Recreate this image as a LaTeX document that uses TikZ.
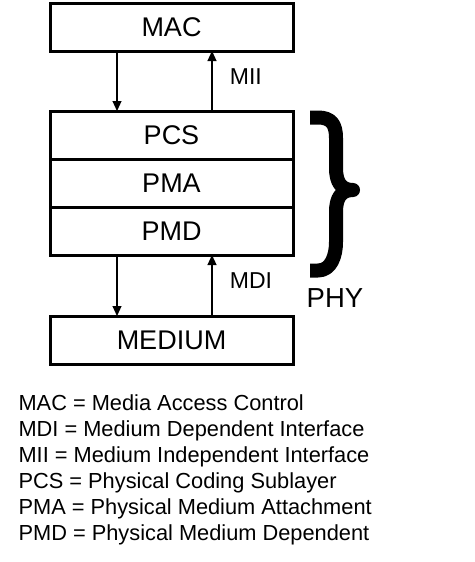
\documentclass[tikz,border=0pt]{standalone}
\usepackage{fontspec}
\setmainfont{Liberation Sans}
\usetikzlibrary{positioning,arrows.meta}
\tikzstyle{layer}=[rectangle,draw,line width=3pt,minimum width=243pt,
minimum height=48pt,inner sep=0pt,outer sep=0pt,font=\fontsize{27}{30}\selectfont]
\tikzstyle{iface}=[font=\fontsize{23}{26}\selectfont]
\tikzstyle{legend}=[anchor=base west,inner sep=0pt,font=\fontsize{21.8}{26}\selectfont]
\tikzstyle{brace}=[line width=14pt,line join=round]
\begin{document}
\begin{tikzpicture}[x=1pt,y=1pt,>={Triangle[length=10pt,width=9pt]},line width=1.1pt]
            \useasboundingbox (0,0) rectangle (474,-562);

            % LAYERS

            \node[layer] (mac) at (171.5,-27) {MAC};
            \node[layer,below=60pt of mac] (pcs) {PCS};
            \node[layer,below=0pt of pcs] (pma) {PMA};
            \node[layer,below=0pt of pma] (pmd) {PMD};
            \node[layer,below=61pt of pmd] (medium) {MEDIUM};

            % INTERFACES

            \draw[->] ([xshift=-54.5pt]mac.south) -- ([xshift=-54.5pt]pcs.north);
            \draw[->] ([xshift=40.5pt]pcs.north) -- ([xshift=40.5pt]mac.south)
                node[iface,midway,right=14pt,yshift=4pt] (mii) {MII};
            \draw[->] ([xshift=-54.5pt]pmd.south) -- ([xshift=-54.5pt]medium.north);
            \draw[->] ([xshift=40.5pt]medium.north) -- ([xshift=40.5pt]pmd.south)
                node[iface,midway,right=14pt,yshift=5pt] (mdi) {MDI};

            % PHY

            \draw[brace] (310,-117.5) -- (318,-117.5)
                .. controls (331,-117.5) and (336,-124) .. (336,-138) -- (336,-168)
                .. controls (336,-182) and (341,-190) .. (353,-190)
                .. controls (341,-190) and (336,-198) .. (336,-212) -- (336,-242)
                .. controls (336,-256) and (331,-270.5) .. (318,-270.5) -- (310,-270.5);
            \node[font=\fontsize{27.5}{30}\selectfont] (phy) at (335,-298) {PHY};

            % LEGEND

            \node[legend] (l1) at (18,-410) {MAC = Media Access Control};
            \node[legend] (l2) at (18,-436) {MDI = Medium Dependent Interface};
            \node[legend] (l3) at (18,-462) {MII = Medium Independent Interface};
            \node[legend] (l4) at (18,-488) {PCS = Physical Coding Sublayer};
            \node[legend] (l5) at (18,-514) {PMA = Physical Medium Attachment};
            \node[legend] (l6) at (18,-540) {PMD = Physical Medium Dependent};

\end{tikzpicture}
\end{document}
